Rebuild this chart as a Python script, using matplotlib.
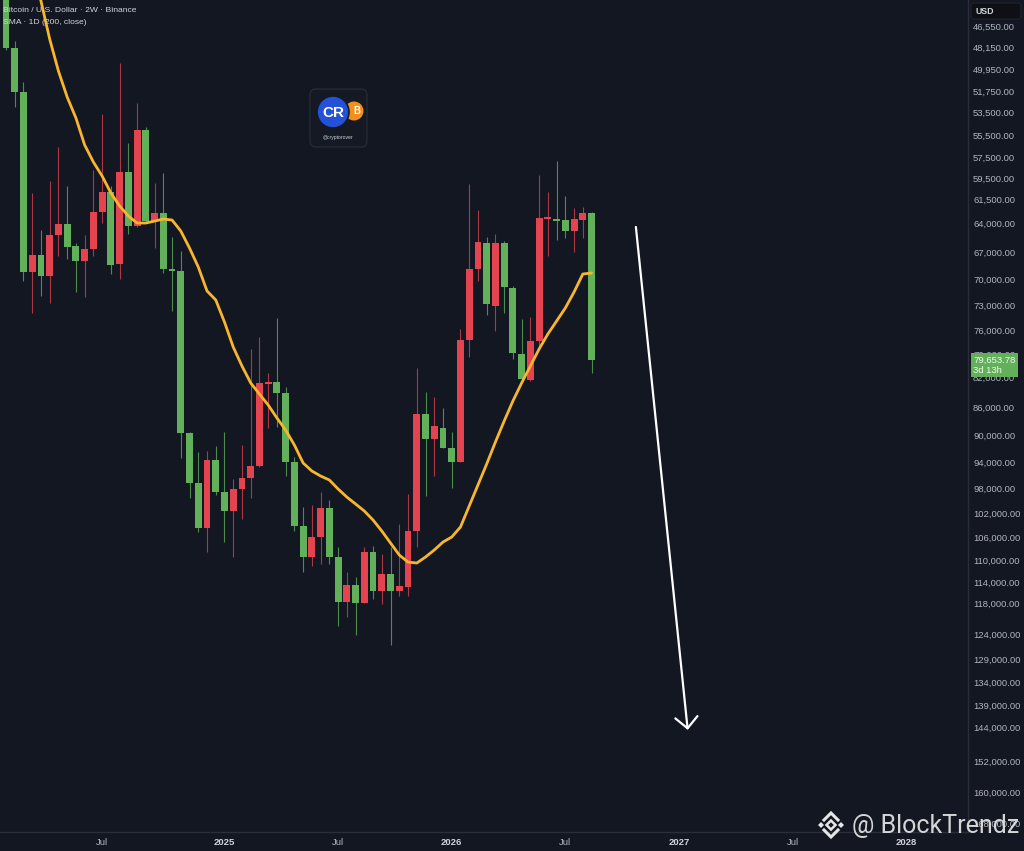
import matplotlib
matplotlib.use("Agg")
import matplotlib.pyplot as plt
import matplotlib.dates as mdates
import matplotlib.transforms as mtransforms
from matplotlib.patches import FancyBboxPatch, Circle, Polygon
from matplotlib.ticker import FuncFormatter, NullLocator, NullFormatter
import numpy as np
import pandas as pd

BG = "#131722"
UP = "#62b15a"
DOWN = "#e3444f"
SMA_COLOR = "#f8b62f"
TEXT = "#b2b5be"

plt.rcParams['font.family'] = ['Liberation Sans', 'DejaVu Sans']

# 2W candles, Binance BTC/USD (price scale inverted)
first_bar = "2024-01-15"
opens = [42540, 48230, 51770, 69170, 67310, 69620, 65180, 64030, 66340, 67960,
         66670, 62810, 60820, 68290, 58890, 64240, 55040, 63730, 62910, 68840,
         69060, 89650, 97160, 104480, 93640, 98590, 101650, 98110, 96390, 94540,
         82850, 82580, 84060, 93940, 104140, 109470, 106000, 101160, 109470, 117700,
         114520, 117880, 108590, 115630, 112510, 115630, 114890, 104980, 86950, 90530,
         88930, 91850, 93940, 77180, 68840, 66020, 73070, 66020, 70980, 78950,
         82320, 77300, 63520, 63520, 63620, 64760, 63620, 62910]
highs = [48380, 53030, 70180, 73890, 71900, 72710, 67420, 67750, 71440, 72020,
         67420, 63930, 69400, 69960, 65080, 64340, 63830, 66560, 69290, 73650,
         93330, 99550, 105150, 108590, 99070, 106860, 109470, 102970, 99550, 94700,
         88930, 88790, 96080, 104980, 112150, 111060, 110710, 110710, 122330, 120570,
         124120, 117880, 117130, 118070, 126130, 116570, 116570, 107720, 99230, 96080,
         91850, 97950, 93940, 79320, 70180, 74130, 76070, 73890, 79580, 82450,
         82450, 78310, 67420, 65700, 65490, 66990, 65490, 81400]
lows = [42540, 47690, 50940, 60910, 64660, 59750, 56560, 60230, 66020, 65180,
        58700, 53640, 60230, 49410, 56200, 52690, 54770, 59940, 58990, 65390,
        66880, 89510, 92440, 92290, 91550, 89510, 96550, 91410, 78310, 76810,
        81400, 74490, 83250, 93190, 101000, 100680, 98590, 99870, 107720, 112150,
        113050, 107720, 107550, 108950, 107720, 103810, 98910, 80740, 83920, 84600,
        86110, 89510, 75830, 60040, 62610, 65390, 65080, 65810, 70750, 74620,
        74370, 59170, 60820, 57850, 61210, 62400, 62300, 62810]
closes = [48230, 51770, 69170, 67310, 69620, 65180, 64030, 66450, 67960, 66670,
          62810, 60820, 68390, 58890, 64240, 55040, 63730, 62910, 68840, 68950,
          89650, 97160, 104480, 93640, 98590, 101650, 98110, 96390, 94540, 82710,
          82580, 84060, 93940, 104140, 109470, 106000, 101160, 109470, 117700, 114520,
          117880, 108590, 115630, 112510, 115630, 114700, 104980, 86950, 90530, 88650,
          91850, 93940, 77180, 68840, 65920, 72840, 66020, 70870, 78810, 82190,
          77300, 63420, 63310, 63730, 64760, 63520, 62910, 79653.78]

# SMA 1D (200, close) sampled at each bar, starting from bar index 3
sma_first_bar = 3
sma_200 = [42060, 44710, 47540, 50050, 52190, 53980, 56380, 57950, 59270, 60910,
           62200, 63210, 63930, 63930, 63730, 63520, 63620, 64760, 66560, 68620,
           71320, 72360, 74980, 78060, 80480, 82710, 84200, 85700, 87510, 89230,
           91410, 94090, 95310, 96080, 96700, 98110, 99390, 100510, 101650, 103140,
           104980, 107030, 109120, 110360, 110530, 109470, 108240, 106860, 106000, 104310,
           100840, 97480, 94240, 90960, 87940, 85150, 82710, 80480, 78310, 76440,
           74860, 73300, 71440, 69400, 69290]

tick_dates = ["2024-06-17", "2024-12-30", "2025-06-30", "2025-12-29",
              "2026-06-29", "2026-12-28", "2027-06-28", "2027-12-27"]
tick_labels = ["Jul", "2025", "Jul", "2026", "Jul", "2027", "Jul", "2028"]

price_ticks = [46550, 48150, 49950, 51750, 53500, 55500, 57500, 59500, 61500,
               64000, 67000, 70000, 73000, 76000, 79000, 82000, 86000, 90000,
               94000, 98000, 102000, 106000, 110000, 114000, 118000, 124000,
               129000, 134000, 139000, 144000, 152000, 160000, 168000]

arrow_from = ("2026-10-20", 64340)
arrow_to = ("2027-01-11", 144600)
countdown = "3d 13h"

dates = pd.date_range(first_bar, periods=len(opens), freq="14D")
x = mdates.date2num(dates.to_pydatetime())
o = np.array(opens, float)
h = np.array(highs, float)
l = np.array(lows, float)
c = np.array(closes, float)

fig = plt.figure(figsize=(10.24, 8.51), dpi=100, facecolor=BG)
ax = fig.add_axes([0, 19 / 851, 968 / 1024, 832 / 851])
ax.set_facecolor(BG)
ax.set_yscale('log')

up = c >= o
colors = np.where(up, UP, DOWN)
ax.vlines(x, l, h, colors=colors, lw=0.8, alpha=0.75, zorder=2)
body_lo = np.minimum(o, c)
body_h = np.maximum(np.abs(c - o), body_lo * 0.0025)
ax.bar(x, body_h, bottom=body_lo, width=11, color=colors, lw=0, zorder=3)

sx = x[sma_first_bar:sma_first_bar + len(sma_200)]
ax.plot(sx, sma_200, color=SMA_COLOR, lw=2, solid_joinstyle='round',
        solid_capstyle='round', zorder=4)

# big arrow
ax.annotate('', xy=(mdates.datestr2num(arrow_to[0]), arrow_to[1]),
            xytext=(mdates.datestr2num(arrow_from[0]), arrow_from[1]),
            arrowprops=dict(arrowstyle='->,head_length=0.8,head_width=0.8',
                            color='white', lw=1.6, shrinkA=0, shrinkB=0,
                            mutation_scale=10),
            zorder=5)

ax.set_xlim(x[0] - 9.6, x[0] + 1541)
ax.set_ylim(170450, 44640)

ax.yaxis.tick_right()
ax.set_yticks(price_ticks)
ax.yaxis.set_minor_locator(NullLocator())
ax.yaxis.set_minor_formatter(NullFormatter())
ax.yaxis.set_major_formatter(FuncFormatter(lambda v, p: f"{v:,.2f}"))
ax.tick_params(axis='y', length=0, pad=3.6, labelsize=6.8, labelcolor=TEXT)

ax.set_xticks(mdates.date2num(pd.to_datetime(tick_dates).to_pydatetime()))
ax.set_xticklabels(tick_labels)
ax.tick_params(axis='x', length=0, pad=4, labelsize=6.8, labelcolor=TEXT)
for lbl in ax.get_xticklabels():
    if lbl.get_text().isdigit():
        lbl.set_fontweight('bold')
        lbl.set_color('#d1d4dc')

for s in ['top', 'left']:
    ax.spines[s].set_visible(False)
for s in ['right', 'bottom']:
    ax.spines[s].set_color('#2a2e39')
    ax.spines[s].set_linewidth(1)

# last price label on the price scale
trans = mtransforms.blended_transform_factory(ax.transAxes, ax.transData)
ax.annotate(f"{closes[-1]:,.2f}\n{countdown}", xy=(1, closes[-1]), xycoords=trans,
            xytext=(3.8, -4), textcoords='offset points', ha='left', va='center',
            fontsize=6.8, color='#f0f7ee', linespacing=1.15,
            bbox=dict(boxstyle='square,pad=0.28', fc=UP, ec='none'),
            annotation_clip=False, zorder=10)

# overlay in pixel units for header, logos and watermark
deco = fig.add_axes([0, 0, 1, 1], facecolor='none')
deco.set_xlim(0, 1024)
deco.set_ylim(851, 0)
deco.axis('off')

deco.text(3, 10, "Bitcoin / U.S. Dollar · 2W · Binance", fontsize=6.1,
          color='#d1d4dc', va='center', ha='left')
deco.text(3, 22, "SMA · 1D (200, close)", fontsize=6.1,
          color='#d1d4dc', va='center', ha='left')

deco.add_patch(FancyBboxPatch((971, 3), 50, 16, boxstyle='round,pad=0,rounding_size=3',
                              fc='#0e1015', ec='#22252e', lw=0.8))
deco.text(976, 11, "USD", fontsize=6.3, fontweight='bold', color='#d1d4dc', va='center')

# cryptorover logo
deco.add_patch(FancyBboxPatch((310, 89), 57, 58, boxstyle='round,pad=0,rounding_size=6',
                              fc='#151924', ec='#2a2e39', lw=0.8))
deco.add_patch(Circle((354, 111), 9.5, fc='#f2901c', ec='none'))
deco.text(357, 111, "B", fontsize=7, fontweight='bold', color='white', ha='center', va='center')
deco.add_patch(Circle((333, 112), 16, fc='#2352d8', ec='#151924', lw=1.2))
deco.text(333, 113, "CR", fontsize=11, fontweight='bold', color='white', ha='center', va='center')
deco.text(338, 138, "@cryptorover", fontsize=3.6, color='#d1d4dc', ha='center', va='center')

# watermark
W = '#e6e6e6'
deco.plot([824, 831, 838], [820, 813, 820], color=W, lw=2.2, solid_joinstyle='miter')
deco.plot([824, 831, 838], [830, 837, 830], color=W, lw=2.2, solid_joinstyle='miter')
deco.add_patch(Polygon([(831, 820.5), (835.5, 825), (831, 829.5), (826.5, 825)],
                       closed=True, fc='none', ec=W, lw=1.8))
deco.add_patch(Polygon([(818, 825), (821, 822), (824, 825), (821, 828)], fc=W, ec='none'))
deco.add_patch(Polygon([(838, 825), (841, 822), (844, 825), (841, 828)], fc=W, ec='none'))
deco.text(852, 826, "@ BlockTrendz", fontsize=18, color=W, alpha=0.92, va='center',
          ha='left', family='Roboto')

fig.savefig("out.png", dpi=100, facecolor=BG)
